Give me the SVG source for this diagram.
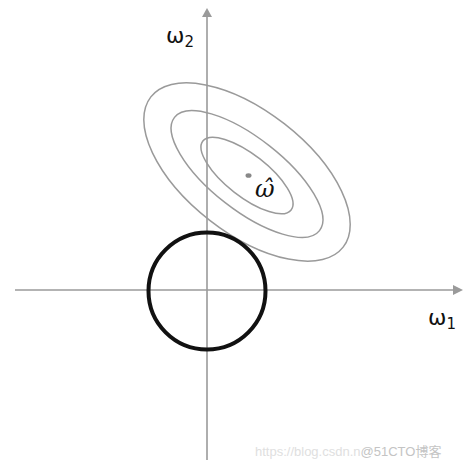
<svg xmlns="http://www.w3.org/2000/svg" width="474" height="467" viewBox="0 0 474 467">
<style>
.axis{stroke:#9a9a9a;stroke-width:1.6;fill:none}
.contour{stroke:#9a9a9a;stroke-width:1.5;fill:none}
.lbl{font-family:"DejaVu Sans",sans-serif;font-size:22px;fill:#111}
.sub{font-size:15px}
.hatlbl{font-family:"DejaVu Serif",serif;font-style:italic;font-size:24px;fill:#111}
.wm{font-family:"Liberation Sans","Noto Sans CJK SC",sans-serif;font-size:13px}
</style>
<rect width="474" height="467" fill="#fff"/>
<g id="connectors">
<line class="axis" x1="207" y1="460" x2="207" y2="15"/>
<path d="M202,17 L207,8 L212,17 Z" fill="#9a9a9a"/>
<line class="axis" x1="15" y1="290" x2="454" y2="290"/>
<path d="M453,285 L463,290 L453,295 Z" fill="#9a9a9a"/>
</g>
<g id="contours">
<ellipse class="contour" cx="247" cy="172" rx="122" ry="61" transform="rotate(38 247 172)"/>
<ellipse class="contour" cx="247" cy="174" rx="92" ry="36" transform="rotate(38 247 174)"/>
<ellipse class="contour" cx="247" cy="175.5" rx="56" ry="21" transform="rotate(38 247 175.5)"/>
<ellipse cx="248.5" cy="175.5" rx="3" ry="2.3" fill="#888"/>
</g>
<g id="constraint">
<circle cx="207" cy="291" r="58.5" fill="none" stroke="#111" stroke-width="4"/>
</g>
<g id="labels">
<text class="lbl" x="166" y="43">ω<tspan class="sub" dy="4">2</tspan></text>
<text class="lbl" x="428" y="325">ω<tspan class="sub" dy="4">1</tspan></text>
<text class="hatlbl" x="255" y="197">ω̂</text>
</g>
<g id="watermark">
<text class="wm" x="255" y="456" fill="#e0e0e0">https://blog.csdn.n<tspan fill="#c4c4c4">@51CTO博客</tspan></text>
</g>
</svg>
